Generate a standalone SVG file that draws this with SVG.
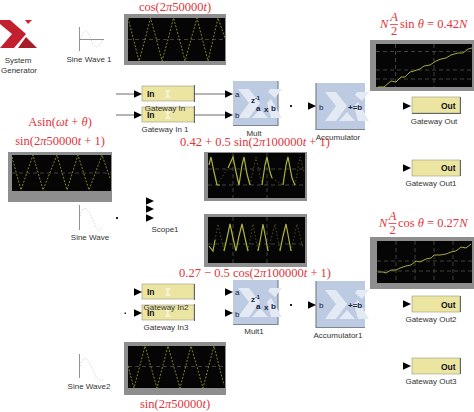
<svg xmlns="http://www.w3.org/2000/svg" width="474" height="412" viewBox="0 0 474 412">
<style>
text{font-family:"Liberation Sans",Arial,sans-serif}
.lb{font-size:8px;fill:#333;text-anchor:middle}
.m{font-family:"Liberation Serif","Times New Roman",serif;font-size:12.5px;fill:#e0353c;text-anchor:middle}
.s{text-anchor:start}
.m tspan.i{font-style:italic}
.sf{fill:#8e8e8e}
.si{fill:#050505}
.gr{stroke:#5a5a50;stroke-width:.7;stroke-dasharray:4 3;fill:none}
.wd{fill:none;stroke:#8f8f30;stroke-width:.9;stroke-dasharray:2 1.5}
.wf{fill:none;stroke:#6c6c28;stroke-width:.7;stroke-dasharray:1.500 2}
.ws{fill:none;stroke:#b0b43c;stroke-width:1.200}
.wl{fill:none;stroke:#a6a83e;stroke-width:1}
.gw{fill:#ece5a2;stroke:#9a9a80;stroke-width:.6}
.ge{stroke:#555;stroke-width:.9}
.gt{font-size:8.500px;font-weight:bold;fill:#111}
.wm{fill:#f6f2d8}
.bl{fill:#bccbe2}
.be{fill:none;stroke:#7c8592;stroke-width:1.200}
.x1{fill:#e4eaf4}
.bt{font-size:8px;fill:#15233f}
.bb{font-size:8px;font-weight:bold;fill:#15233f}
.ln{stroke:#444;stroke-width:.8;fill:none}
.ic{stroke:#777;stroke-width:.8;fill:none}
.dt{stroke:#b4b4b4;stroke-width:.8;stroke-dasharray:1 2;fill:none}
</style>
<defs>
<path id="ah" d="M-8 -3.800L0 0L-8 3.800Z" fill="#000"/>
<path id="xm" d="M0 0H11L22 14L11 29H0L11 14ZM32 0H44L37 9L30 3ZM22 20L30 29H14ZM29 14L33 10L44 29H33Z" class="x1"/>
</defs>

<g id="system-generator">
<path d="M0 20H10L26 34L14 48H0L12 34L0 24Z" fill="#c3202f"/>
<path d="M25 20H32L28 24Z" fill="#d8232f"/>
<path d="M26 37L37 48H18Z" fill="#a81c2a"/>
<text class="lb" x="18" y="63">System</text>
<text class="lb" x="19" y="73">Generator</text>
</g>

<g id="sine-wave-1">
<path class="ic" d="M79.500 27V51M80 39.500H104"/>
<path class="dt" d="M80 39Q86 23 91 39T103 39"/>
<text class="lb" x="89" y="62">Sine Wave 1</text>
</g>
<g id="sine-wave">
<path class="ic" d="M79.500 205V230"/>
<path class="dt" d="M80 216Q85 200 92 218T101 228"/>
<text class="lb" x="90" y="240">Sine Wave</text>
</g>
<g id="sine-wave-2">
<path class="ic" d="M79.500 354V378"/>
<path class="dt" d="M80 366Q85 350 92 368T104 378"/>
<text class="lb" x="89" y="389">Sine Wave2</text>
</g>

<g id="scope-cos">
<rect class="sf" x="124" y="14" width="102" height="51"/>
<rect class="si" x="128" y="18" width="97" height="43"/>
<path class="gr" d="M128 39.500H225"/>
<path class="wd" d="M128 18L133.500 39.500L139 61L145 39.500L150.500 18L156.500 39.500L162 61L168 39.500L173.500 18L179.500 39.500L185 61L191 39.500L197 18L202.500 39.500L208 61L213 39.500L218 18L225 38"/>
</g>
<g id="scope-sin1">
<rect class="sf" x="8" y="152" width="104" height="50"/>
<rect class="si" x="12" y="155" width="99" height="36"/>
<path class="gr" d="M12 173H111"/>
<path class="wd" d="M12 157L21 190L33 155L43 190L57 155L67 190L78 155L89 190L102 155L110 178"/>
</g>
<g id="scope-sum">
<rect class="sf" x="204" y="152" width="103" height="49"/>
<rect class="si" x="208" y="153" width="97" height="45"/>
<path class="gr" d="M208 169H305M208 185H305"/>
<path class="gr" d="M233 153V198M267 153V198"/>
<path class="wf" d="M217 185L228 168M250 185L256 157L262 185M272 178L283 185M295 185L300 157L304 172"/>
<path class="ws" d="M209 165L211 157L214 172L217 185L220 185"/>
<path class="ws" d="M228 168L233 157L236 172L239 185L242 165L244 157L247 174L250 185"/>
<path class="ws" d="M262 185L265 165L267 157L270 172L272 178"/>
<path class="ws" d="M283 185L286 165L288 157L292 178L295 185"/>
</g>
<g id="scope-diff">
<rect class="sf" x="204" y="214" width="103" height="53"/>
<rect class="si" x="208" y="217" width="97" height="46"/>
<path class="gr" d="M208 244H305"/>
<path class="gr" d="M233 217V263M267 217V263"/>
<path class="wf" d="M215 240L218 224L224 251M248 251L253 224L258 251M268 251L275 224L280 251M291 251L297 224L303 248"/>
<path class="ws" d="M209 246L213 251L215 240"/>
<path class="ws" d="M224 251L227 238L230 224L233 238L236 251L239 236L242 224L245 238L248 251"/>
<path class="ws" d="M258 251L261 236L263 224L266 240L268 251"/>
<path class="ws" d="M280 251L283 236L286 224L289 240L291 251"/>
</g>
<g id="scope-sin">
<rect class="sf" x="124" y="342" width="102" height="53"/>
<rect class="si" x="128" y="346" width="97" height="42"/>
<path class="gr" d="M128 366.500H225"/>
<path class="wd" d="M128 366L134 388L145 346L157 388L168 346L180 388L191 346L203 388L214 346L224 385"/>
</g>
<g id="scope-acc1">
<rect class="sf" x="370" y="40" width="104" height="51"/>
<rect class="si" x="376" y="44" width="96" height="43"/>
<path class="gr" d="M376 51.500H472M376 70H472M376 79H472"/>
<path class="gr" d="M395.500 44V87M434 44V87"/>
<path class="wl" d="M378 87H384L391 81L396 82L401 77L405 77L410 72L414 71L420 69L424 66L430 65L436 61L441 59L446 58L451 55L458 53L463 53L468 49L472 48"/>
</g>
<g id="scope-acc2">
<rect class="sf" x="370" y="237" width="104" height="52"/>
<rect class="si" x="377" y="241" width="95" height="42"/>
<path class="gr" d="M377 261H472M377 271H472"/>
<path class="gr" d="M396 241V283M415 241V283M434 241V283M453 241V283"/>
<path class="wl" d="M378 272H383L386 273L391 270L396 270L400 268L406 266L411 265L416 261L420 262L426 259L431 258L434 255L440 255L446 254L451 252L456 251L461 247L466 248L471 244"/>
</g>

<g id="gateway-in-1">
<rect class="gw" x="142" y="107" width="52" height="15"/>
<path class="ge" d="M194.500 106V123"/>
<path class="wm" d="M165 111H171L168 115L171 119H165L167 115Z"/>
<text class="gt" x="147" y="118">In</text>
<text class="lb" x="165" y="132">Gateway In 1</text>
</g>
<g id="gateway-in">
<rect class="gw" x="142" y="86" width="52" height="15"/>
<path class="ge" d="M194.500 85V102"/>
<path class="wm" d="M165 90H171L168 94L171 98H165L167 94Z"/>
<text class="gt" x="147" y="97">In</text>
<text class="lb" x="165" y="111">Gateway In</text>
</g>
<g id="gateway-in-3">
<rect class="gw" x="142" y="305" width="52" height="15"/>
<path class="ge" d="M194.500 304V321"/>
<path class="wm" d="M165 309H171L168 313L171 317H165L167 313Z"/>
<text class="gt" x="147" y="316">In</text>
<text class="lb" x="166" y="330">Gateway In3</text>
</g>
<g id="gateway-in-2">
<rect class="gw" x="142" y="284" width="52" height="15"/>
<path class="ge" d="M194.500 284V300"/>
<path class="wm" d="M165 288H171L168 292L171 296H165L167 292Z"/>
<text class="gt" x="147" y="295">In</text>
<text class="lb" x="166" y="310">Gateway In2</text>
</g>

<g id="mult">
<rect class="bl" x="233" y="81" width="45" height="44"/>
<path class="be" d="M278 81V125.500H233"/>
<use href="#xm" transform="translate(238 89)"/>
<text class="bt" x="235" y="97">a</text>
<text class="bt" x="235" y="118">b</text>
<text class="bb" x="251" y="103">z<tspan dy="-3" font-size="5.500">-1</tspan></text>
<text class="bb" x="256" y="111">a</text><text class="bb" x="264" y="112" font-size="6">x</text><text class="bb" x="271" y="111">b</text>
<text class="lb" x="254" y="136">Mult</text>
</g>
<g id="accumulator">
<rect class="bl" x="316" y="83" width="49" height="46"/>
<path class="be" d="M316 83V129.500H365"/>
<use href="#xm" transform="translate(325 92)"/>
<text class="bt" x="319" y="110">b</text>
<text class="bb" x="348" y="110">+=b</text>
<text class="lb" x="338" y="140">Accumulator</text>
</g>
<g id="mult-1">
<rect class="bl" x="233" y="280" width="45" height="44"/>
<path class="be" d="M278 280V324.500H233"/>
<use href="#xm" transform="translate(238 288)"/>
<text class="bt" x="235" y="295">a</text>
<text class="bt" x="235" y="317">b</text>
<text class="bb" x="251" y="302">z<tspan dy="-3" font-size="5.500">-1</tspan></text>
<text class="bb" x="256" y="309">a</text><text class="bb" x="264" y="310" font-size="6">x</text><text class="bb" x="271" y="309">b</text>
<text class="lb" x="254" y="334">Mult1</text>
</g>
<g id="accumulator-1">
<rect class="bl" x="316" y="281" width="49" height="46"/>
<path class="be" d="M316 281V327.500H365"/>
<use href="#xm" transform="translate(325 290)"/>
<text class="bt" x="319" y="308">b</text>
<text class="bb" x="348" y="308">+=b</text>
<text class="lb" x="338" y="338">Accumulator1</text>
</g>

<g id="gateway-out">
<rect class="gw" x="412" y="97" width="48" height="16"/>
<path class="ge" d="M460.500 97V114M412 113.500H461"/>
<text class="gt" x="441" y="109">Out</text>
<text class="lb" x="434" y="124">Gateway Out</text>
</g>
<g id="gateway-out-1">
<rect class="gw" x="412" y="160" width="48" height="16"/>
<path class="ge" d="M460.500 160V176"/>
<text class="gt" x="441" y="171">Out</text>
<text class="lb" x="431" y="186">Gateway Out1</text>
</g>
<g id="gateway-out-2">
<rect class="gw" x="412" y="296" width="48" height="16"/>
<path class="ge" d="M460.500 296V312"/>
<text class="gt" x="441" y="308">Out</text>
<text class="lb" x="431" y="322">Gateway Out2</text>
</g>
<g id="gateway-out-3">
<rect class="gw" x="412" y="358" width="48" height="16"/>
<path class="ge" d="M460.500 358V374"/>
<text class="gt" x="441" y="370">Out</text>
<text class="lb" x="431" y="384">Gateway Out3</text>
</g>

<g id="scope-1">
<use href="#ah" transform="translate(154 201)"/>
<use href="#ah" transform="translate(154 209)"/>
<use href="#ah" transform="translate(154 218)"/>
<text class="lb" x="165" y="232">Scope1</text>
</g>

<g id="connectors">
<path class="ln" d="M116 94H134M116 115H134M194 94H226M194 115H226"/>
<use href="#ah" transform="translate(142 94)"/>
<use href="#ah" transform="translate(142 115)"/>
<use href="#ah" transform="translate(233 94)"/>
<use href="#ah" transform="translate(233 115)"/>
<use href="#ah" transform="translate(316 106)"/>
<use href="#ah" transform="translate(411 106)"/>
<use href="#ah" transform="translate(411 168)"/>
<use href="#ah" transform="translate(142 292)"/>
<use href="#ah" transform="translate(142 313)"/>
<use href="#ah" transform="translate(233 292)"/>
<use href="#ah" transform="translate(233 313)"/>
<use href="#ah" transform="translate(316 305)"/>
<use href="#ah" transform="translate(411 304)"/>
<use href="#ah" transform="translate(411 366)"/>
<rect x="116" y="217" width="2" height="2" fill="#222"/>
<rect x="290" y="105" width="2" height="2" fill="#222"/>
<rect x="290" y="304" width="2" height="2" fill="#222"/>
<rect x="124.500" y="312.500" width="1.500" height="1.500" fill="#222"/>
</g>

<g id="math-labels">
<text class="m" x="175" y="11.200">cos(2<tspan class="i">π</tspan>50000<tspan class="i">t</tspan>)</text>
<text class="m" x="60" y="126">Asin(<tspan class="i">ωt</tspan> + <tspan class="i">θ</tspan>)</text>
<text class="m" x="60" y="145">sin(2<tspan class="i">π</tspan>50000<tspan class="i">t</tspan> + 1)</text>
<text class="m" x="255" y="146">0.42 + 0.5 sin(2<tspan class="i">π</tspan>100000<tspan class="i">t</tspan> + 1)</text>
<text class="m" x="255" y="277">0.27 − 0.5 cos(2<tspan class="i">π</tspan>100000<tspan class="i">t</tspan> + 1)</text>
<text class="m" x="175" y="408">sin(2<tspan class="i">π</tspan>50000<tspan class="i">t</tspan>)</text>
<text class="m s" x="380" y="28"><tspan class="i">N</tspan></text>
<text class="m" x="394" y="21" font-size="11"><tspan class="i">A</tspan></text>
<path d="M390 24.500H398" stroke="#e0353c" stroke-width=".8"/>
<text class="m" x="394" y="35" font-size="11">2</text>
<text class="m s" x="400" y="28">sin <tspan class="i">θ</tspan> = 0.42<tspan class="i">N</tspan></text>
<text class="m s" x="379" y="227"><tspan class="i">N</tspan></text>
<text class="m" x="392.500" y="220" font-size="11"><tspan class="i">A</tspan></text>
<path d="M388.500 223.500H396.500" stroke="#e0353c" stroke-width=".8"/>
<text class="m" x="392.500" y="234" font-size="11">2</text>
<text class="m s" x="398" y="227">cos <tspan class="i">θ</tspan> = 0.27<tspan class="i">N</tspan></text>
</g>
</svg>
